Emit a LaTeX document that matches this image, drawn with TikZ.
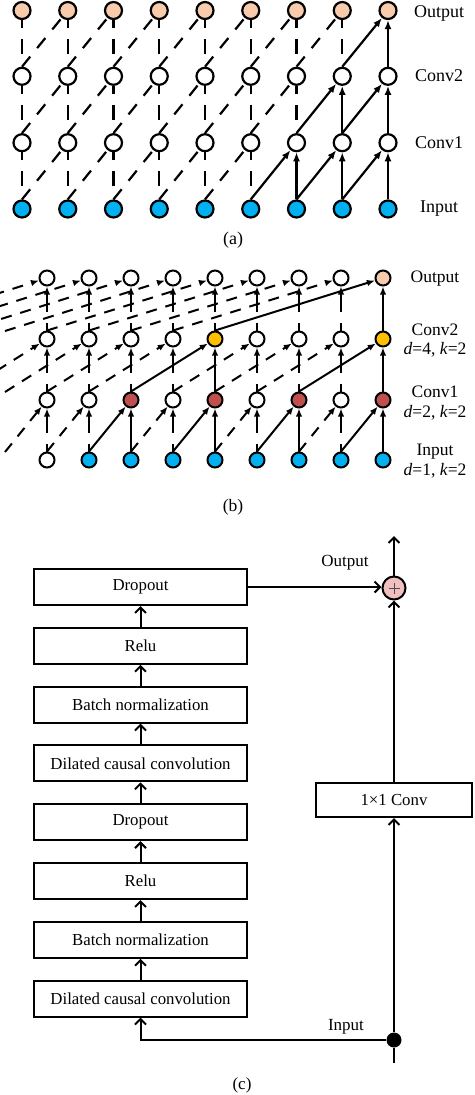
\documentclass[tikz,border=0pt]{standalone}
\usepackage{fontspec}
\setmainfont{Liberation Serif}
\usetikzlibrary{arrows.meta}
\definecolor{inblue}{RGB}{0,176,240}
\definecolor{outpeach}{RGB}{248,203,173}
\definecolor{cvred}{RGB}{192,80,77}
\definecolor{cvyellow}{RGB}{255,192,0}
\definecolor{pluspink}{RGB}{240,192,192}
\begin{document}
\begin{tikzpicture}[x=1pt,y=-1pt,
  acirc/.style={circle,draw,line width=2.2pt,minimum size=17pt,inner sep=0pt,fill=white},
  bcirc/.style={circle,draw,line width=2pt,minimum size=15pt,inner sep=0pt,fill=white},
  avdash/.style={line width=2.2pt,dash pattern=on 8pt off 11pt on 15pt off 14pt},
  addash/.style={line width=2.2pt,dash pattern=on 13pt off 11pt},
  aarrow/.style={line width=2.2pt,-{Latex[length=9pt,width=7pt]}},
  bsolid/.style={line width=2pt,-{Latex[length=8pt,width=6.5pt]}},
  bdash/.style={line width=2pt,dash pattern=on 11pt off 9pt,-{Latex[length=8pt,width=6.5pt]}},
  bdashv/.style={line width=2pt,dash pattern=on 8pt off 11pt on 40pt off 0pt,-{Latex[length=8pt,width=6.5pt]}},
  lbl/.style={font=\fontsize{18}{20}\selectfont,inner sep=0pt},
  blbl/.style={font=\fontsize{17.5}{20}\selectfont,inner sep=0pt},
  ctext/.style={font=\fontsize{17}{19}\selectfont,inner sep=0pt},
  cbox/.style={draw,line width=2pt,minimum width=213pt,minimum height=36pt,inner sep=0pt,font=\fontsize{16.8}{19}\selectfont},
  carrow/.style={line width=2pt,-{Straight Barb[length=5.5pt,width=11pt,line width=2pt]}},
  cline/.style={line width=2pt}
]
\useasboundingbox (0,0) rectangle (474,1095);

% ---------------- (a) ----------------
\foreach \i in {0,...,8}{
  \pgfmathsetmacro\xx{22+45.75*\i}
  \node[acirc,fill=inblue] (a0-\i) at (\xx,209) {};
  \node[acirc] (a1-\i) at (\xx,142.7) {};
  \node[acirc] (a2-\i) at (\xx,76.3) {};
  \node[acirc,fill=outpeach] (a3-\i) at (\xx,10.5) {};
}
\foreach \rr in {0,1,2}{
  \pgfmathtruncatemacro\rn{\rr+1}
  \pgfmathtruncatemacro\lv{6+\rr}
  \pgfmathtruncatemacro\ld{5+\rr}
  \foreach \i in {0,...,8}{
    \ifnum\i<\lv\relax
      \draw[avdash] (a\rn-\i.south) -- (a\rr-\i.north);
    \else
      \draw[aarrow] (a\rr-\i) -- (a\rn-\i);
    \fi
  }
  \foreach \i in {0,...,7}{
    \pgfmathtruncatemacro\jj{\i+1}
    \ifnum\i<\ld\relax
      \draw[addash] (a\rr-\i.north) -- (a\rn-\jj);
    \else
      \draw[aarrow] (a\rr-\i.north) -- (a\rn-\jj);
    \fi
  }
}
\node[lbl] (la3) at (439,13) {Output};
\node[lbl] (la2) at (439,76) {Conv2};
\node[lbl] (la1) at (439,143) {Conv1};
\node[lbl] (la0) at (439,209) {Input};
\node[lbl] (capa) at (233,240) {(a)};

% ---------------- (b) ----------------
\node[bcirc] (b0-0) at (47,460) {};
\foreach \i in {1,...,8} \node[bcirc,fill=inblue] (b0-\i) at ({47+42*\i},460) {};
\foreach \i in {0,1,3,5,7} \node[bcirc] (b1-\i) at ({47+42*\i},400) {};
\foreach \i in {2,4,6,8} \node[bcirc,fill=cvred] (b1-\i) at ({47+42*\i},400) {};
\foreach \i in {0,1,2,3,5,6,7} \node[bcirc] (b2-\i) at ({47+42*\i},339) {};
\foreach \i in {4,8} \node[bcirc,fill=cvyellow] (b2-\i) at ({47+42*\i},339) {};
\foreach \i in {0,...,7} \node[bcirc] (b3-\i) at ({47+42*\i},278) {};
\node[bcirc,fill=outpeach] (b3-8) at (383,278) {};

\begin{scope}
\clip (0,250) rectangle (474,490);
\foreach \rr/\dd/\ys in {0/1/460, 1/2/400, 2/4/339}{
  \pgfmathtruncatemacro\rn{\rr+1}
  \foreach \i in {0,...,8}{
    \pgfmathtruncatemacro\src{\i-\dd}
    \pgfmathtruncatemacro\sol{(\i>0)&&(mod(\i,2*\dd)==0)}
    \ifnum\src<0\relax
      \coordinate (srcpt) at ({47+42*\src},{\ys-8});
    \else
      \coordinate (srcpt) at (b\rr-\src.north);
    \fi
    \ifnum\sol=1\relax
      \draw[bsolid] (srcpt) -- (b\rn-\i);
      \draw[bsolid] (b\rr-\i) -- (b\rn-\i);
    \else
      \draw[bdash] (srcpt) -- (b\rn-\i);
      \draw[bdashv] (b\rr-\i) -- (b\rn-\i);
    \fi
  }
}
\end{scope}
\node[blbl] (lb3) at (435,279) {Output};
\node[blbl] (lb2) at (435,330) {Conv2};
\node[blbl] (lb2d) at (435,350) {\textit{d}=4, \textit{k}=2};
\node[blbl] (lb1) at (435,392) {Conv1};
\node[blbl] (lb1d) at (435,413) {\textit{d}=2, \textit{k}=2};
\node[blbl] (lb0) at (435,452) {Input};
\node[blbl] (lb0d) at (435,471) {\textit{d}=1, \textit{k}=2};
\node[blbl] (capb) at (233,507) {(b)};

% ---------------- (c) ----------------
\node[cbox] (cb1) at (140.5,587) {Dropout};
\node[cbox] (cb2) at (140.5,645.8) {Relu};
\node[cbox] (cb3) at (140.5,704.6) {Batch normalization};
\node[cbox] (cb4) at (140.5,763.4) {Dilated causal convolution};
\node[cbox] (cb5) at (140.5,822.2) {Dropout};
\node[cbox] (cb6) at (140.5,881) {Relu};
\node[cbox] (cb7) at (140.5,939.8) {Batch normalization};
\node[cbox] (cb8) at (140.5,998.6) {Dilated causal convolution};
\foreach \k [evaluate=\k as \kn using int(\k+1)] in {1,...,7}
  \draw[carrow] (cb\kn) -- (cb\k);

\node[cbox,minimum width=156pt,minimum height=34pt] (conv) at (394,800) {1×1 Conv};
\node[circle,draw,line width=2pt,fill=pluspink,minimum size=23pt,inner sep=0pt] (plus) at (394,588) {};
\draw[line width=0.8pt,black!70] ([xshift=-5.5pt]plus.center) -- ([xshift=5.5pt]plus.center);
\draw[line width=0.8pt,black!70] ([yshift=-5.5pt]plus.center) -- ([yshift=5.5pt]plus.center);
\node[circle,fill=black,minimum size=15pt,inner sep=0pt] (dot) at (394,1040) {};
\coordinate (cbot) at (394,1063);
\coordinate (ctop) at (394,536);

\draw[cline] (cbot) -- (dot);
\draw[carrow] (dot) -- (conv);
\draw[carrow] (conv) -- (plus);
\draw[carrow] (plus) -- (ctop);
\draw[carrow] (dot) -| (cb8);
\draw[carrow] (cb1.east) -- (cb1.east -| plus.west);

\node[ctext] (lout) at (345,563) {Output};
\node[ctext] (lin) at (346,1027) {Input};
\node[ctext] (capc) at (242,1085) {(c)};
\end{tikzpicture}
\end{document}
